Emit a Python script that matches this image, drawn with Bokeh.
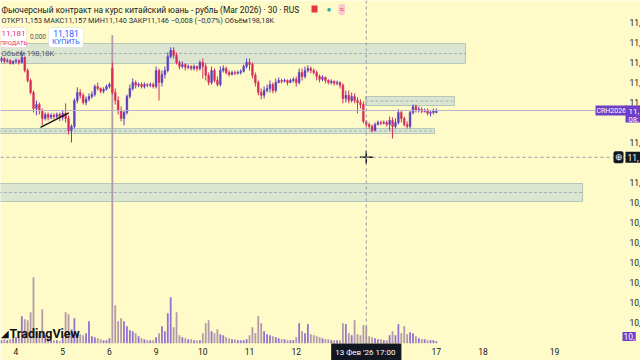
from bokeh.plotting import figure
from bokeh.models import (Range1d, Label, LabelSet, ColumnDataSource, Span, BoxAnnotation)
from bokeh.core.properties import value
from bokeh.embed import file_html
from bokeh.resources import INLINE

# ---------------- data ----------------
title_text = "Фьючерсный контракт на курс китайский юань - рубль (Mar 2026) · 30 · RUS"
ohlc_text = "ОТКР11,153 МАКС11,157 МИН11,140 ЗАКР11,146 −0,008 (−0,07%) Объём198,18K"
volume_text = "Объём 198,18K"

day_tick_index = [5, 21, 37, 53, 69, 85, 101, 149, 165, 189.5]
day_tick_label = ["4", "5", "6", "9", "10", "11", "12", "17", "18", "19"]

opens = [11.306, 11.311, 11.304, 11.306, 11.299,
         11.304, 11.306, 11.301, 11.314, 11.281, 11.256, 11.226, 11.186, 11.196, 11.181, 11.161, 11.171, 11.164, 11.169, 11.166, 11.171,
         11.164, 11.174, 11.161, 11.131, 11.141, 11.206, 11.226, 11.219, 11.201, 11.209, 11.216, 11.221, 11.241, 11.236, 11.229, 11.234,
         11.241, 11.286, 11.226, 11.206, 11.181, 11.161, 11.176, 11.216, 11.236, 11.251, 11.244, 11.246, 11.241, 11.246, 11.244, 11.246,
         11.241, 11.281, 11.251, 11.271, 11.281, 11.316, 11.331, 11.319, 11.301, 11.291, 11.296, 11.289, 11.291, 11.286, 11.291, 11.286,
         11.301, 11.291, 11.269, 11.251, 11.281, 11.256, 11.246, 11.281, 11.286, 11.276, 11.271, 11.276, 11.274, 11.276, 11.279, 11.291,
         11.301, 11.296, 11.269, 11.251, 11.226, 11.219, 11.231, 11.236, 11.246, 11.231, 11.251, 11.256, 11.254, 11.256, 11.251, 11.256,
         11.259, 11.251, 11.276, 11.266, 11.281, 11.286, 11.281, 11.276, 11.266, 11.259, 11.264, 11.256, 11.251, 11.254, 11.249, 11.251,
         11.244, 11.211, 11.219, 11.206, 11.216, 11.206, 11.201, 11.196, 11.153, 11.146, 11.141, 11.131, 11.146, 11.151, 11.149, 11.151,
         11.146, 11.156, 11.141, 11.151, 11.176, 11.161, 11.146, 11.141, 11.176, 11.191, 11.181, 11.184, 11.179, 11.181, 11.174, 11.176,
         11.176]
highs = [11.316, 11.314, 11.311, 11.309, 11.306,
         11.311, 11.309, 11.331, 11.316, 11.286, 11.261, 11.231, 11.206, 11.201, 11.186, 11.176, 11.176, 11.174, 11.174, 11.176, 11.176,
         11.181, 11.199, 11.169, 11.146, 11.211, 11.239, 11.234, 11.224, 11.216, 11.224, 11.229, 11.246, 11.251, 11.239, 11.239, 11.246,
         11.251, 11.301, 11.236, 11.216, 11.191, 11.181, 11.221, 11.246, 11.261, 11.256, 11.251, 11.251, 11.251, 11.249, 11.251, 11.251,
         11.291, 11.286, 11.281, 11.291, 11.326, 11.339, 11.339, 11.326, 11.306, 11.304, 11.299, 11.296, 11.294, 11.296, 11.294, 11.306,
         11.311, 11.299, 11.276, 11.291, 11.286, 11.266, 11.291, 11.294, 11.291, 11.281, 11.281, 11.281, 11.281, 11.284, 11.296, 11.311,
         11.311, 11.301, 11.276, 11.256, 11.236, 11.241, 11.246, 11.256, 11.251, 11.261, 11.264, 11.261, 11.261, 11.259, 11.261, 11.264,
         11.266, 11.286, 11.286, 11.291, 11.294, 11.291, 11.286, 11.281, 11.271, 11.269, 11.266, 11.259, 11.259, 11.256, 11.256, 11.254,
         11.249, 11.231, 11.231, 11.226, 11.224, 11.214, 11.209, 11.204, 11.157, 11.151, 11.146, 11.151, 11.156, 11.156, 11.156, 11.156,
         11.166, 11.164, 11.161, 11.184, 11.181, 11.166, 11.154, 11.181, 11.196, 11.196, 11.191, 11.189, 11.186, 11.186, 11.181, 11.186,
         11.186]
lows = [11.301, 11.299, 11.301, 11.296, 11.296,
        11.299, 11.296, 11.299, 11.276, 11.251, 11.221, 11.176, 11.169, 11.171, 11.144, 11.156, 11.156, 11.159, 11.159, 11.161, 11.154,
        11.156, 11.151, 11.121, 11.101, 11.136, 11.199, 11.211, 11.196, 11.194, 11.204, 11.211, 11.216, 11.231, 11.224, 11.224, 11.231,
        11.236, 11.221, 11.196, 11.171, 11.154, 11.144, 11.171, 11.211, 11.231, 11.236, 11.239, 11.236, 11.236, 11.239, 11.239, 11.236,
        11.236, 11.206, 11.241, 11.261, 11.276, 11.311, 11.311, 11.296, 11.284, 11.286, 11.281, 11.284, 11.281, 11.281, 11.279, 11.281,
        11.261, 11.256, 11.244, 11.246, 11.251, 11.241, 11.241, 11.276, 11.271, 11.266, 11.269, 11.269, 11.271, 11.271, 11.276, 11.286,
        11.281, 11.261, 11.241, 11.219, 11.209, 11.211, 11.226, 11.226, 11.224, 11.226, 11.249, 11.249, 11.251, 11.244, 11.249, 11.251,
        11.241, 11.246, 11.256, 11.261, 11.276, 11.274, 11.271, 11.256, 11.251, 11.254, 11.249, 11.246, 11.246, 11.244, 11.244, 11.236,
        11.199, 11.201, 11.199, 11.201, 11.199, 11.174, 11.186, 11.149, 11.140, 11.136, 11.126, 11.129, 11.144, 11.144, 11.146, 11.141,
        11.131, 11.111, 11.136, 11.146, 11.151, 11.141, 11.136, 11.136, 11.171, 11.176, 11.176, 11.174, 11.176, 11.169, 11.166, 11.171,
        11.174]
closes = [11.311, 11.304, 11.306, 11.299, 11.304,
          11.306, 11.301, 11.314, 11.281, 11.256, 11.226, 11.186, 11.196, 11.181, 11.161, 11.171, 11.164, 11.169, 11.166, 11.171, 11.164,
          11.174, 11.161, 11.131, 11.141, 11.206, 11.226, 11.219, 11.201, 11.209, 11.216, 11.221, 11.241, 11.236, 11.229, 11.234, 11.241,
          11.246, 11.226, 11.206, 11.181, 11.161, 11.176, 11.216, 11.236, 11.251, 11.244, 11.246, 11.241, 11.246, 11.244, 11.246, 11.241,
          11.281, 11.251, 11.271, 11.281, 11.316, 11.331, 11.319, 11.301, 11.291, 11.296, 11.289, 11.291, 11.286, 11.291, 11.286, 11.301,
          11.291, 11.269, 11.251, 11.281, 11.256, 11.246, 11.281, 11.286, 11.276, 11.271, 11.276, 11.274, 11.276, 11.279, 11.291, 11.301,
          11.296, 11.269, 11.251, 11.226, 11.219, 11.231, 11.236, 11.246, 11.231, 11.251, 11.256, 11.254, 11.256, 11.251, 11.256, 11.259,
          11.251, 11.276, 11.266, 11.281, 11.286, 11.281, 11.276, 11.266, 11.259, 11.264, 11.256, 11.251, 11.254, 11.249, 11.251, 11.244,
          11.211, 11.219, 11.206, 11.216, 11.206, 11.201, 11.196, 11.154, 11.146, 11.141, 11.131, 11.146, 11.151, 11.149, 11.151, 11.146,
          11.156, 11.141, 11.151, 11.176, 11.161, 11.146, 11.141, 11.176, 11.191, 11.181, 11.184, 11.179, 11.181, 11.174, 11.176, 11.181,
          11.181]
volumes_k = [35, 47, 35, 47, 58,
             70, 82, 315, 280, 268, 361, 770, 140, 117, 396, 93, 70, 47, 35, 35, 23,
             93, 361, 338, 163, 292, 117, 105, 93, 117, 257, 82, 70, 58, 47, 35, 35,
             58, 3590, 443, 257, 292, 257, 198, 152, 140, 117, 82, 58, 47, 35, 35, 35,
             70, 117, 198, 140, 350, 536, 187, 361, 93, 70, 58, 47, 47, 35, 35, 35,
             117, 233, 268, 140, 117, 163, 105, 93, 70, 58, 47, 47, 35, 35, 35, 47,
             93, 187, 117, 315, 233, 140, 105, 93, 82, 70, 58, 47, 47, 35, 35, 35,
             70, 233, 140, 117, 222, 105, 93, 82, 70, 58, 47, 47, 35, 35, 35, 35,
             233, 222, 117, 93, 268, 105, 93, 210, 198.18, 82, 70, 58, 47, 47, 35, 35,
             93, 140, 93, 222, 117, 198, 105, 128, 117, 82, 58, 47, 47, 35, 35, 35,
             23]

price_ticks = [10.65, 10.70, 10.75, 10.80, 10.85, 10.90, 10.95, 11.00,
               11.10, 11.20, 11.25, 11.30, 11.35, 11.40]
last_price = 11.181
last_price_text = "11,181"
hover_index = 125
hover_price = 11.064
hover_time_text = "13 Фев '26  17:00"
low_tag_price = 10.616

zone_left = [-6, 124.7, -6, -6]
zone_right = [159.0, 155.2, 148.4, 199.1]
zone_top = [11.3485, 11.216, 11.136, 10.9985]
zone_bottom = [11.2985, 11.1935, 11.1235, 10.9535]

trend_x = [13.4, 23.1]
trend_y = [11.139, 11.175]

# ---------------- styling / layout ----------------
BG = "#fffbc8"
UP = "#5b3fc4"
DOWN = "#d62d5a"
VOL_UP = "#9373d3"
VOL_DOWN = "#b39aa9"
TAG = "#6f3fc8"
TXT = "#131722"
FONT = "Roboto"
W, H = 640, 360
BAR_PX = 2.919          # pixels per bar
X0 = -0.31              # bar index at the left edge
PX_PER_PRICE = 400.0    # pixels per 1.0 of price
TOP_PRICE = 11.456      # price at the top edge
VOL_PX = 11.66          # thousand contracts per pixel
VOL_BASE_PX = 342.7     # pixel row of the volume baseline
AXIS_X = 629            # price-scale label column

idx = list(range(len(closes)))
up = [c >= o for o, c in zip(opens, closes)]
src = ColumnDataSource(dict(
    i=idx, open=opens, high=highs, low=lows, close=closes, vol=volumes_k,
    color=[UP if u else DOWN for u in up],
    vcolor=[VOL_UP if u else VOL_DOWN for u in up],
))

p = figure(width=W, height=H, output_backend="svg", toolbar_location=None,
           x_range=Range1d(X0, X0 + W / BAR_PX),
           y_range=Range1d(TOP_PRICE - H / PX_PER_PRICE, TOP_PRICE),
           x_axis_location=None, y_axis_location=None,
           min_border=0, background_fill_color=BG, border_fill_color=BG,
           outline_line_color=None)
p.grid.visible = False
p.extra_y_ranges = {"vol": Range1d(-(H - VOL_BASE_PX) * VOL_PX, VOL_BASE_PX * VOL_PX)}


def sy(cy):
    return H - cy


# zones (drawings)
zsrc = ColumnDataSource(dict(l=zone_left, r=zone_right, t=zone_top, b=zone_bottom,
                             m=[(a + b) / 2 for a, b in zip(zone_top, zone_bottom)]))
p.quad(left="l", right="r", top="t", bottom="b", source=zsrc,
       fill_color="#dce5cf", line_color="#b3c7bb", line_width=1)
p.segment(x0="l", x1="r", y0="m", y1="m", source=zsrc,
          line_color="#9db3b6", line_width=1, line_dash="3 2")

# volume
p.vbar(x="i", width=0.62, top="vol", bottom=0, y_range_name="vol", source=src,
       fill_color="vcolor", line_color=None)

# last price line
p.add_layout(Span(location=last_price, dimension="width", line_color="#bcb3cf", line_width=1))

# candles
p.segment(x0="i", x1="i", y0="low", y1="high", line_color="color", line_width=1, source=src)
p.vbar(x="i", width=0.6, top="open", bottom="close", fill_color="color", line_color="color",
       line_width=0.5, source=src)

# trend line drawing
p.line(trend_x, trend_y, line_color="#111111", line_width=1.3)

# crosshair
p.add_layout(Span(location=hover_index, dimension="height", line_color="#9598a1",
                  line_width=1, line_dash="3 3"))
p.add_layout(Span(location=hover_price, dimension="width", line_color="#9598a1",
                  line_width=1, line_dash="3 3"))
p.scatter([hover_index], [hover_price], marker="cross", size=13, line_color="#111111", line_width=1.5)

# price scale labels (right) and time scale labels (bottom)
ysrc = ColumnDataSource(dict(y=price_ticks, t=[f"{int(t + 1e-9)}," for t in price_ticks]))
p.add_layout(LabelSet(x=AXIS_X, y="y", x_units="screen", y_units="data", text="t", source=ysrc,
                      text_font=value(FONT), text_font_size="8.5px", text_color=TXT,
                      text_baseline="middle"))
xsrc = ColumnDataSource(dict(x=day_tick_index, t=day_tick_label))
p.add_layout(LabelSet(x="x", y=sy(351), x_units="data", y_units="screen", text="t", source=xsrc,
                      text_font=value(FONT), text_font_size="8.5px", text_color=TXT,
                      text_align="center", text_baseline="middle"))


def lab(text, x, cy, size="9px", color=TXT, align="left", style="normal", **kw):
    p.add_layout(Label(x=x, y=sy(cy), x_units="screen", y_units="screen", text=text,
                       text_font=FONT, text_font_size=size, text_color=color,
                       text_align=align, text_baseline="middle", text_font_style=style, **kw))


def box(l, r, t, b, fill, line=None, radius=0):
    p.add_layout(BoxAnnotation(left=l, right=r, bottom=sy(b), top=sy(t),
                               left_units="screen", right_units="screen",
                               bottom_units="screen", top_units="screen",
                               fill_color=fill, fill_alpha=1, line_color=line,
                               border_radius=radius))


# header
lab(title_text, 1, 9, size="8.4px")
box(311, 317, 5, 12, "#e5353f")
lab("●", 326, 9, size="8px", color="#22ab94")
lab("≈", 338, 9, size="8px", color="#e0566a", background_fill_color="#f9c9cc",
    padding=1, border_radius=2)
lab(ohlc_text, 1, 20, size="7.3px", color="#2a2e39")

# sell / buy widgets
box(0, 26, 27, 47, "#ffffff", "#f0b6c4", 3)
lab(last_price_text, 13, 32.5, size="8px", color="#e0315b", align="center")
lab("ПРОДАТЬ", 13, 41.5, size="6px", color="#e0315b", align="center")
lab("0,000", 37.5, 36, size="6.5px", color="#50535e", align="center")
box(48, 83, 27, 47, "#ffffff", "#b9c4e4", 3)
lab(last_price_text, 65.5, 32.5, size="8.5px", color="#2962ff", align="center")
lab("КУПИТЬ", 65.5, 41.5, size="7px", color="#2962ff", align="center")
lab(volume_text, 1, 53, size="7.5px", color="#50535e")

# watermark
lab("◢", 0, 333, size="10px", color="#111111")
lab("TradingView", 9, 333, size="12.5px", color="#111111", style="bold")

# price tags on the scale
p.add_layout(Label(x=595, y=last_price, x_units="screen", y_units="data", text="CRH2026",
                   text_font=FONT, text_font_size="7px", text_color="#ffffff",
                   text_baseline="middle", background_fill_color=TAG, padding=1))
box(625, 641, 105, 122, TAG)
lab("11,", 628, 110.5, size="8px", color="#ffffff")
lab("08:", 628, 118.5, size="7.5px", color="#ffffff")
p.add_layout(Label(x=613, y=hover_price, x_units="screen", y_units="data", text="⊕",
                   text_font=FONT, text_font_size="9px", text_color="#ffffff",
                   text_baseline="middle", background_fill_color="#131722", padding=1,
                   border_radius=2))
p.add_layout(Label(x=625, y=hover_price, x_units="screen", y_units="data", text="11,",
                   text_font=FONT, text_font_size="8.5px", text_color="#ffffff",
                   text_baseline="middle", background_fill_color="#131722", padding=2))
p.add_layout(Label(x=hover_index, y=sy(351.5), x_units="data", y_units="screen", text=hover_time_text,
                   text_font=FONT, text_font_size="8px", text_color="#ffffff", text_align="center",
                   text_baseline="middle", background_fill_color="#131722", padding=4))
p.add_layout(Label(x=622, y=low_tag_price, x_units="screen", y_units="data", text="10,",
                   text_font=FONT, text_font_size="8.5px", text_color="#ffffff",
                   text_baseline="middle", background_fill_color=TAG, padding=1))

open("out.html", "w").write(file_html(p, INLINE))
